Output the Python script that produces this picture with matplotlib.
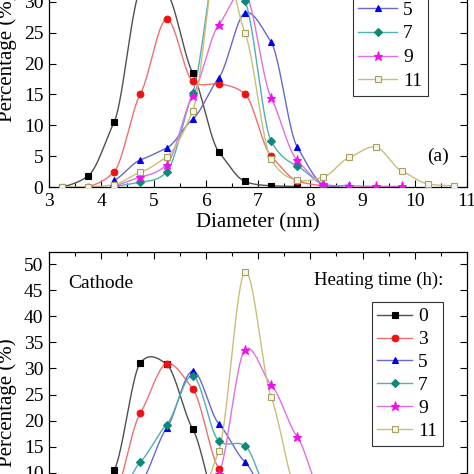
import numpy as np
import matplotlib
matplotlib.use("Agg")
import matplotlib.pyplot as plt
from matplotlib.ticker import MultipleLocator

plt.rcParams['font.family'] = ['Liberation Serif', 'DejaVu Serif']
plt.rcParams['mathtext.fontset'] = 'stix'

# ---------------- data ----------------
labels = ['0', '3', '5', '7', '9', '11']

# Panel (a): anode
a_x0 = [3.25, 3.75, 4.25, 4.75, 5.25, 5.75, 6.25, 6.75, 7.25, 7.75]
a_y0 = [0.0, 1.8, 10.6, 32.0, 31.5, 18.5, 5.7, 0.9, 0.2, 0.1]
a_x3 = [3.75, 4.25, 4.75, 5.25, 5.75, 6.25, 6.75, 7.25, 7.75, 8.25]
a_y3 = [0.0, 2.5, 15.1, 27.2, 17.1, 16.7, 15.1, 5.0, 1.0, 0.2]
a_x5 = [4.25, 4.75, 5.25, 5.75, 6.25, 6.75, 7.25, 7.75, 8.25, 8.75]
a_y5 = [1.1, 4.4, 6.3, 11.0, 17.7, 28.2, 23.5, 6.5, 0.4, 0.3]
a_x7 = [4.25, 4.75, 5.25, 5.75, 6.25, 6.75, 7.25, 7.75, 8.25]
a_y7 = [0.1, 0.8, 2.4, 15.3, 38.0, 30.2, 7.5, 3.4, 0.3]
a_x9 = [4.25, 4.75, 5.25, 5.75, 6.25, 6.75, 7.25, 7.75, 8.25, 8.75, 9.25, 9.75]
a_y9 = [0.2, 1.6, 3.6, 14.8, 26.3, 31.5, 14.5, 4.3, 0.5, 0.2, 0.1, 0.1]
a_x11 = [3.25, 3.75, 4.25, 4.75, 5.25, 5.75, 6.25, 6.75, 7.25, 7.75,
         8.25, 8.75, 9.25, 9.75, 10.25, 10.75]
a_y11 = [0.0, 0.0, 0.4, 2.4, 4.9, 12.3, 38.5, 25.0, 4.5, 1.1,
         1.6, 4.8, 6.5, 2.6, 0.5, 0.2]

# Panel (b): cathode
b_x0 = [3.75, 4.25, 4.75, 5.25, 5.75, 6.25, 6.75]
b_y0 = [0.5, 10.6, 31.1, 30.8, 18.4, 3.0, 0.5]
b_x3 = [4.25, 4.75, 5.25, 5.75, 6.25, 6.75, 7.25]
b_y3 = [5.0, 21.5, 30.9, 26.1, 10.8, 2.0, 0.5]
b_x5 = [4.25, 4.75, 5.25, 5.75, 6.25, 6.75, 7.25, 7.75]
b_y5 = [1.0, 8.0, 18.5, 29.5, 19.4, 12.1, 4.0, 1.0]
b_x7 = [4.25, 4.75, 5.25, 5.75, 6.25, 6.75, 7.25, 7.75]
b_y7 = [3.0, 12.1, 19.2, 28.6, 16.1, 15.2, 5.0, 1.0]
b_x9 = [5.25, 5.75, 6.25, 6.75, 7.25, 7.75, 8.25, 8.75]
b_y9 = [0.5, 2.0, 9.8, 33.6, 26.9, 16.9, 5.0, 1.0]
b_x11 = [5.25, 5.75, 6.25, 6.75, 7.25, 7.75, 8.25]
b_y11 = [0.5, 3.0, 14.2, 48.5, 24.6, 6.0, 1.0]

x_ticks = [3, 4, 5, 6, 7, 8, 9, 10, 11]

# ---------------- styles ----------------
mk_colors = ['#000000', '#ee1111', '#0000ee', '#108878', '#ee11ee', '#f5f5f0']
edge_colors = ['#000000', '#ee1111', '#0000ee', '#108878', '#ee11ee', '#a8a060']
line_colors = ['#505050', '#f07070', '#6868cc', '#50b0b0', '#e070e0', '#c8c078']
markers = ['s', 'o', '^', 'D', '*', 's']
msizes = [4.0, 4.8, 5.0, 4.0, 6.5, 4.6]
TENSION = 0.6


def cardinal_spline(x, y, c=TENSION, n=40):
    x = np.asarray(x, float)
    y = np.asarray(y, float)
    m = len(x)
    d = np.zeros(m)
    for i in range(m):
        if i == 0:
            d[i] = c * (y[1] - y[0]) / (x[1] - x[0])
        elif i == m - 1:
            d[i] = c * (y[-1] - y[-2]) / (x[-1] - x[-2])
        else:
            d[i] = c * (y[i + 1] - y[i - 1]) / (x[i + 1] - x[i - 1])
    xs_all, ys_all = [], []
    for i in range(m - 1):
        h = x[i + 1] - x[i]
        t = np.linspace(0, 1, n)
        h00 = 2 * t ** 3 - 3 * t ** 2 + 1
        h10 = t ** 3 - 2 * t ** 2 + t
        h01 = -2 * t ** 3 + 3 * t ** 2
        h11 = t ** 3 - t ** 2
        yy = h00 * y[i] + h10 * h * d[i] + h01 * y[i + 1] + h11 * h * d[i + 1]
        xs_all.append(x[i] + t * h)
        ys_all.append(yy)
    return np.concatenate(xs_all), np.concatenate(ys_all)


def draw(ax, xsets, ysets):
    handles = []
    for i, (xv, yv) in enumerate(zip(xsets, ysets)):
        sx, sy = cardinal_spline(xv, yv)
        ax.plot(sx, sy, color=line_colors[i], lw=1.0, zorder=2)
        ax.plot(xv, yv, ls='none', marker=markers[i], ms=msizes[i],
                mfc=mk_colors[i], mec=edge_colors[i], mew=0.8, zorder=3)
        h, = ax.plot([], [], color=line_colors[i], lw=1.0, marker=markers[i],
                     ms=msizes[i], mfc=mk_colors[i], mec=edge_colors[i], mew=0.8)
        handles.append(h)
    return handles


def style(ax, ylim, top_ticks):
    ax.set_xlim(3, 11)
    ax.set_ylim(*ylim)
    ax.set_xticks(x_ticks)
    ax.xaxis.set_minor_locator(MultipleLocator(0.5))
    ax.yaxis.set_major_locator(MultipleLocator(5))
    ax.tick_params(axis='both', which='major', direction='in', length=5,
                   width=0.8, labelsize=14, right=True, top=top_ticks, pad=4)
    ax.tick_params(axis='x', which='minor', direction='in', length=3,
                   width=0.8, top=top_ticks)
    for s in ax.spines.values():
        s.set_linewidth(0.9)


W = H = 474.0
fig = plt.figure(figsize=(4.74, 4.74), dpi=100)

# top panel (partly above the image)
l, r = 49, 467
top_bottom_px = 187
top_h_px = 40 * 6.17
ax1 = fig.add_axes([l / W, (H - top_bottom_px) / H, (r - l) / W, top_h_px / H])
h1 = draw(ax1, [a_x0, a_x3, a_x5, a_x7, a_x9, a_x11],
          [a_y0, a_y3, a_y5, a_y7, a_y9, a_y11])
style(ax1, (0, 40), True)
ax1.set_xlabel('Diameter (nm)', fontsize=15, labelpad=3)
ax1.set_ylabel('Percentage (%)', fontsize=15)
ax1.yaxis.set_label_coords((17 - l) / (r - l), (top_bottom_px - 58) / top_h_px)
ax1.text((438 - l) / (r - l), (top_bottom_px - 156) / top_h_px, '(a)',
         transform=ax1.transAxes, ha='center', va='center', fontsize=14)
leg1 = ax1.legend(h1, labels, loc='lower right',
                  bbox_to_anchor=((428 - l) / (r - l), (top_bottom_px - 96) / top_h_px),
                  borderaxespad=0, fontsize=14, frameon=True, fancybox=False,
                  edgecolor='#333333', framealpha=1, handlelength=2.0,
                  labelspacing=0.32, handletextpad=0.3, borderpad=0.3)
leg1.get_frame().set_linewidth(0.8)

# bottom panel (partly below the image)
b_top_px = 252
ppu = 5.22
b_ylim = (0, 52.3)
b_h_px = (b_ylim[1] - b_ylim[0]) * ppu
b_bottom_px = b_top_px + b_h_px
ax2 = fig.add_axes([l / W, (H - b_bottom_px) / H, (r - l) / W, b_h_px / H])
h2 = draw(ax2, [b_x0, b_x3, b_x5, b_x7, b_x9, b_x11],
          [b_y0, b_y3, b_y5, b_y7, b_y9, b_y11])
style(ax2, b_ylim, True)
ax2.set_ylabel('Percentage (%)', fontsize=15)
ax2.yaxis.set_label_coords((17 - l) / (r - l), (b_bottom_px - 403) / b_h_px)
ax2.text((68 - l) / (r - l), (b_bottom_px - 283) / b_h_px, 'Cathode',
         transform=ax2.transAxes, ha='left', va='center', fontsize=14)
ax2.text((443 - l) / (r - l), (b_bottom_px - 280) / b_h_px, 'Heating time (h):',
         transform=ax2.transAxes, ha='right', va='center', fontsize=13.5)
leg2 = ax2.legend(h2, labels, loc='upper right',
                  bbox_to_anchor=((443 - l) / (r - l), (b_bottom_px - 302) / b_h_px),
                  borderaxespad=0, fontsize=14, frameon=True, fancybox=False,
                  edgecolor='#333333', framealpha=1, handlelength=1.8,
                  labelspacing=0.27, handletextpad=0.3, borderpad=0.3)
leg2.get_frame().set_linewidth(0.8)

fig.savefig('out.png', dpi=100)
